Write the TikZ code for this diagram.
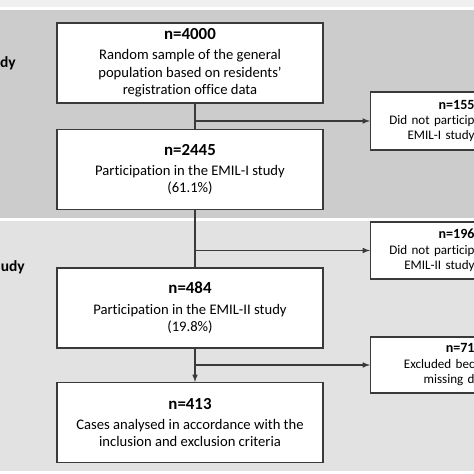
\documentclass[tikz,border=0pt]{standalone}
\usepackage{fontspec}
\setmainfont{Carlito}[Ligatures=NoCommon]
\usetikzlibrary{calc}
\usetikzlibrary{arrows}

\definecolor{bandone}{HTML}{CCCCCC}
\definecolor{bandtwo}{HTML}{E2E2E2}
\definecolor{edge}{HTML}{3A3A3A}

\tikzset{
  mainbox/.style={draw=edge,line width=0.8pt,fill=white,minimum width=6.65cm,
    minimum height=2cm,align=center,font=\fontsize{10.4}{12.4}\selectfont},
  dropbox/.style={draw=edge,line width=0.8pt,fill=white,anchor=west,inner xsep=0.275cm,
    text width=2.325cm,align=right,font=\fontsize{9.3}{11}\selectfont},
  flow/.style={draw=edge,line width=0.8pt},
  side/.style={anchor=east,inner sep=0pt,font=\fontsize{11}{13}\bfseries\selectfont}
}
\newcommand{\nhead}[1]{{\fontsize{12}{14}\bfseries\selectfont #1}\\[2pt]}
\newcommand{\dhead}[1]{{\fontsize{10}{12}\bfseries\selectfont #1}\\}

\begin{document}
\begin{tikzpicture}[x=0.025cm,y=-0.025cm]
    \path[use as bounding box] (0,0) rectangle (474,474);
    % Background bands.
    \fill[white] (0,0) rectangle (474,474);
    \fill[black!6] (0,0) rectangle (474,7);
    \fill[bandone] (0,10) rectangle (474,218);
    \fill[bandtwo] (0,221) rectangle (474,471);
    % Study labels.
    \node[side] (studyone) at (16,63) {dy};
    \node[side] (studytwo) at (25,267) {udy};
    % Main boxes.
    \node[mainbox] (sample) at (190,63) {\nhead{n=4000}Random sample of the general\\population based on residents’\\registration office data};
    \node[mainbox] (emilone) at (190,169.5) {\nhead{n=2445}Participation in the EMIL-I study\\(61.1\%)};
    \node[mainbox] (emiltwo) at (190,308) {\nhead{n=484}Participation in the EMIL-II study\\(19.8\%)};
    \node[mainbox] (cases) at (190,422.5) {\nhead{n=413}Cases analysed in accordance with the\\inclusion and exclusion criteria};
    % Drop-out boxes.
    \node[dropbox,minimum height=1.45cm] (dropone) at (370,121) {\dhead{n=155}Did not particip\\EMIL-I study};
    \node[dropbox,minimum height=1.425cm] (droptwo) at (370,250.5) {\dhead{n=196}Did not particip\\EMIL-II study};
    \node[dropbox,minimum height=1.4cm] (dropthree) at (370,365) {\dhead{n=71}Excluded bec\\missing d};
    % Trunk.
    \coordinate (trunk) at (195,0);
    \draw[flow] (sample.south -| trunk) -- (emilone.north -| trunk);
    \draw[flow] (emilone.south -| trunk) -- (emiltwo.north -| trunk);
    \draw[flow,-latex] (emiltwo.south -| trunk) -- (cases.north -| trunk);
    % Branches.
    \foreach \d in {dropone,droptwo,dropthree}
      \draw[flow,-latex] (\d.west -| trunk) -- (\d.west);
\end{tikzpicture}
\end{document}
